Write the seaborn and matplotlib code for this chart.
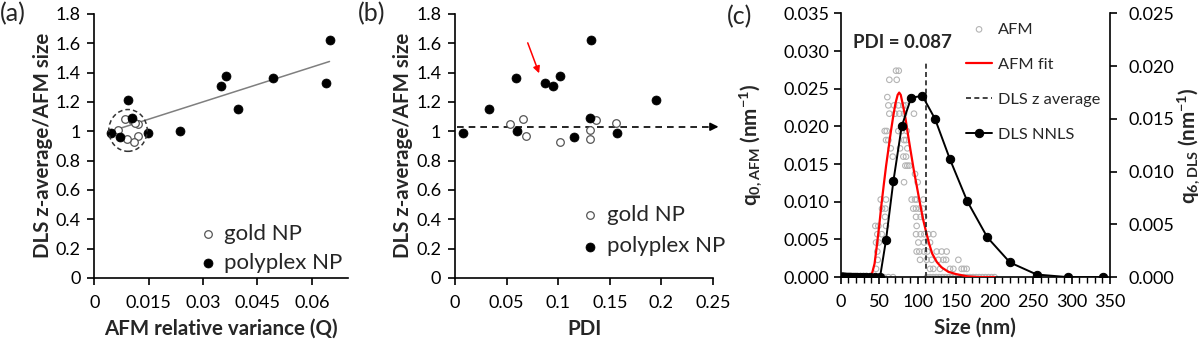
import numpy as np
import pandas as pd
import matplotlib
matplotlib.use('Agg')
import matplotlib.pyplot as plt
from matplotlib.patches import Ellipse
from matplotlib.ticker import MultipleLocator, FormatStrFormatter
import seaborn as sns

# ---- data ----
# (a)/(b) size ratio DLS z-average / AFM size
gold_ratio = [1.048, 1.084, 0.969, 0.924, 1.007, 0.946, 1.077, 1.059]
gold_q = [0.0120, 0.0085, 0.0120, 0.0109, 0.0066, 0.0089, 0.0105, 0.0112]
gold_pdi = [0.0535, 0.0655, 0.0684, 0.1013, 0.131, 0.131, 0.1368, 0.1555]

poly_ratio = [0.990, 1.149, 1.362, 0.998, 1.326, 1.308, 1.378, 0.960, 1.625, 1.091, 0.985, 1.213]
poly_q = [0.0046, 0.0396, 0.0492, 0.0237, 0.0638, 0.0349, 0.0363, 0.0070, 0.0649, 0.0103, 0.0147, 0.0092]
poly_pdi = [0.0074, 0.0332, 0.0587, 0.0603, 0.0871, 0.0945, 0.1013, 0.1155, 0.1313, 0.1306, 0.1568, 0.1945]

mean_ratio = 1.03          # dashed guide in (b)
gold_circle = (0.0093, 1.005)

# (c) AFM histogram points (left axis)
afm_size = [71.9, 75.4, 63.2, 72.8, 60.6,
            61.9, 69.3, 74.9, 81.4, 84.9,
            63.2, 70.6, 76.2, 82.3, 95.2,
            57.2, 59.8, 74.9, 79.3, 85.8,
            58.9, 61.9, 82.3, 84.9,
            65.0, 77.1, 86.6,
            67.6, 81.4, 84.9,
            84.0, 86.6, 89.2,
            96.6, 82.3, 100.0,
            52.0, 58.9, 92.2, 96.6, 98.7, 107.4,
            53.7, 58.0, 94.3, 97.9, 102.2, 106.5,
            57.6, 97.9, 103.9, 108.3,
            45.0, 48.9, 58.9, 98.7,
            47.6, 53.3, 97.9, 103.9, 108.7, 113.9, 120.4,
            45.9, 49.4, 100.9, 108.3, 116.1,
            47.6, 98.7, 102.2, 108.3, 112.6, 124.7, 131.2, 137.7,
            48.1, 103.1, 111.7, 118.2, 126.9, 133.4, 136.9, 152.9,
            45.9, 116.1, 120.4, 129.1, 142.1, 146.4, 157.2, 160.2, 163.7]
afm_q0 = [0.0274, 0.0274, 0.0262, 0.0262, 0.0239,
          0.0228, 0.0228, 0.0228, 0.0228, 0.0228,
          0.0217, 0.0217, 0.0217, 0.0217, 0.0217,
          0.0194, 0.0194, 0.0194, 0.0194, 0.0194,
          0.0182, 0.0182, 0.0182, 0.0182,
          0.0171, 0.0171, 0.0171,
          0.0160, 0.0160, 0.0160,
          0.0148, 0.0148, 0.0148,
          0.0137, 0.0126, 0.0126,
          0.0103, 0.0103, 0.0103, 0.0103, 0.0103, 0.0103,
          0.0091, 0.0091, 0.0091, 0.0091, 0.0091, 0.0091,
          0.0080, 0.0080, 0.0080, 0.0080,
          0.0068, 0.0068, 0.0068, 0.0068,
          0.0057, 0.0057, 0.0057, 0.0057, 0.0057, 0.0057, 0.0057,
          0.0046, 0.0046, 0.0046, 0.0046, 0.0046,
          0.0034, 0.0034, 0.0034, 0.0034, 0.0034, 0.0034, 0.0034, 0.0034,
          0.0023, 0.0023, 0.0023, 0.0023, 0.0023, 0.0023, 0.0023, 0.0023,
          0.0011, 0.0011, 0.0011, 0.0011, 0.0011, 0.0011, 0.0011, 0.0011, 0.0011]
afm_zero_size = [0, 4, 8, 12, 16, 20, 24, 28, 32, 36, 40, 44, 50, 56, 62, 68,
                 112, 116, 120, 124, 128, 132, 136, 140, 144, 148, 152, 156, 160,
                 164, 168, 172, 176, 180, 184, 188, 192, 196, 200]

# AFM fit (left axis)
fit_size = [38, 41, 44, 47, 50, 53, 56, 59, 62, 65, 68, 71, 74, 76, 78, 81, 84, 87,
            90, 95, 99, 103, 107, 111, 115, 119, 125, 131, 140, 150, 165, 180, 200]
fit_q0 = [0.0, 0.0006, 0.0018, 0.0042, 0.0068, 0.0097, 0.0123, 0.0148, 0.0170,
          0.0192, 0.0212, 0.0230, 0.0242, 0.0245, 0.0242, 0.0228, 0.0212, 0.0192,
          0.0173, 0.0142, 0.0120, 0.0098, 0.0077, 0.0060, 0.0044, 0.0031, 0.0020,
          0.0013, 0.0007, 0.0004, 0.0001, 0.0, 0.0]

# DLS NNLS (right axis)
nnls_size = [1.0, 1.2, 1.4, 1.6, 1.8, 2.1, 2.4, 2.8, 3.2, 3.7, 4.3, 5.0, 5.7, 6.6,
             7.7, 8.9, 10.3, 11.9, 13.8, 15.9, 18.4, 21.3, 24.7, 28.5, 33.0, 38.2,
             44.2, 51.1, 58.9, 68.4, 79.3, 91.4, 106.1, 122.6, 142.0, 164.6, 190.6,
             220.0, 254.7, 295.8, 341.3]
nnls_q6 = [0.0] * 28 + [0.00354, 0.00908, 0.0143, 0.0170, 0.0172, 0.0150, 0.01117,
                        0.00718, 0.00377, 0.00139, 0.00025, 0.0, 0.0]
z_average = 110.4
z_line_top = 0.0287
pdi_value = 0.087

# ---- style ----
sns.set_theme(style='ticks')
plt.rcParams['font.family'] = ['Lato', 'DejaVu Sans']
plt.rcParams['mathtext.fontset'] = 'custom'
plt.rcParams['mathtext.rm'] = 'Lato'
plt.rcParams['mathtext.bf'] = 'Lato:bold'
plt.rcParams['mathtext.default'] = 'bf'

TICK = 13
LAB = 14.8
LEG = 16

fig = plt.figure(figsize=(12, 3.46), dpi=100)
ax1 = fig.add_axes([0.0786, 0.197, 0.2114, 0.763])
ax2 = fig.add_axes([0.3792, 0.197, 0.215, 0.763])
ax3 = fig.add_axes([0.7006, 0.199, 0.2244, 0.762])


def style_axis(ax):
    for s in ['left', 'bottom']:
        ax.spines[s].set_linewidth(1.2)
        ax.spines[s].set_color('black')
    ax.tick_params(direction='out', length=5, width=1.2, colors='black',
                   labelsize=TICK)


def scatter_pair(ax, gx, px):
    sns.scatterplot(x=gx, y=gold_ratio, ax=ax, marker='o', s=30,
                    facecolor='white', edgecolor='#555555', linewidth=0.9,
                    label='gold NP', zorder=3)
    sns.scatterplot(x=px, y=poly_ratio, ax=ax, marker='o', s=42,
                    color='black', edgecolor='black', linewidth=0.5,
                    label='polyplex NP', zorder=4)


ratio_ticks = [0, 0.2, 0.4, 0.6, 0.8, 1, 1.2, 1.4, 1.6, 1.8]
ratio_labels = ['0', '0.2', '0.4', '0.6', '0.8', '1', '1.2', '1.4', '1.6', '1.8']

# ---- (a) ----
scatter_pair(ax1, gold_q, poly_q)
sns.regplot(x=poly_q, y=poly_ratio, ax=ax1, scatter=False, ci=None, truncate=True,
            line_kws=dict(color='#7f7f7f', lw=1.1, zorder=2))
ax1.add_patch(Ellipse(gold_circle, 0.0106, 0.285, fill=False, ls=(0, (3, 2)),
                      lw=1.1, color='#333333', zorder=5))
ax1.set_xlim(0, 0.07)
ax1.set_ylim(0, 1.8)
ax1.set_xticks([0, 0.015, 0.03, 0.045, 0.06])
ax1.set_xticklabels(['0', '0.015', '0.03', '0.045', '0.06'])
ax1.set_yticks(ratio_ticks)
ax1.set_yticklabels(ratio_labels)
ax1.set_xlabel('AFM relative variance (Q)', fontsize=LAB, fontweight='bold', labelpad=6)
ax1.set_ylabel('DLS z-average/AFM size', fontsize=LAB, fontweight='bold', labelpad=2)

# ---- (b) ----
scatter_pair(ax2, gold_pdi, poly_pdi)
ax2.plot([0.0016, 0.252], [mean_ratio, mean_ratio], ls=(0, (4, 3)), color='black',
         lw=1.2, clip_on=False, zorder=2)
ax2.annotate('', xy=(0.258, mean_ratio), xytext=(0.248, mean_ratio),
             arrowprops=dict(arrowstyle='-|>', color='black', lw=1.2,
                             mutation_scale=12), annotation_clip=False)
ax2.annotate('', xy=(0.0824, 1.377), xytext=(0.0695, 1.62),
             arrowprops=dict(arrowstyle='-|>', color='red', lw=1.1,
                             mutation_scale=10))
ax2.set_xlim(0, 0.25)
ax2.set_ylim(0, 1.8)
ax2.set_xticks([0, 0.05, 0.1, 0.15, 0.2, 0.25])
ax2.set_xticklabels(['0', '0.05', '0.1', '0.15', '0.2', '0.25'])
ax2.set_yticks(ratio_ticks)
ax2.set_yticklabels(ratio_labels)
ax2.set_xlabel('PDI', fontsize=LAB, fontweight='bold', labelpad=6)
ax2.set_ylabel('DLS z-average/AFM size', fontsize=LAB, fontweight='bold', labelpad=2)

for ax, anchor, spacing in ((ax1, (0.42, 0.205), 0.4), (ax2, (0.497, 0.275), 0.5)):
    style_axis(ax)
    ax.tick_params(axis='x', pad=7)
    ax.tick_params(axis='y', pad=5)
    sns.despine(ax=ax)
    ax.legend(loc='upper left', bbox_to_anchor=anchor, frameon=False,
              fontsize=LEG, handlelength=0.6, handletextpad=0.45,
              labelspacing=spacing, borderpad=0, borderaxespad=0)

# ---- (c) ----
ax3r = ax3.twinx()
sns.scatterplot(x=afm_size + afm_zero_size,
                y=afm_q0 + [0.0] * len(afm_zero_size), ax=ax3,
                marker='o', s=16, facecolor='none', edgecolor='#b4b4b4',
                linewidth=0.8, label='AFM', zorder=2)
sns.lineplot(x=fit_size, y=fit_q0, ax=ax3, color='red', lw=1.6, label='AFM fit',
             zorder=3)
ax3.plot([z_average, z_average], [0, z_line_top], ls=(0, (3, 2)), color='#222222',
         lw=1.2, label='DLS z average', zorder=4)
sns.lineplot(x=nnls_size, y=nnls_q6, ax=ax3r, color='black', lw=1.4, marker='o',
             markersize=6, markeredgecolor='black', label='DLS NNLS', zorder=5)

ax3.set_xlim(0, 350)
ax3.set_ylim(0, 0.035)
ax3r.set_ylim(0, 0.025)
ax3.xaxis.set_major_locator(MultipleLocator(50))
ax3.xaxis.set_minor_locator(MultipleLocator(10))
ax3.yaxis.set_major_locator(MultipleLocator(0.005))
ax3.yaxis.set_major_formatter(FormatStrFormatter('%.3f'))
ax3r.yaxis.set_major_locator(MultipleLocator(0.005))
ax3r.yaxis.set_major_formatter(FormatStrFormatter('%.3f'))

style_axis(ax3)
ax3.tick_params(axis='x', pad=7)
ax3.tick_params(axis='y', pad=3)
ax3.tick_params(axis='x', which='minor', direction='out', length=4, width=1.0,
                colors='black')
ax3r.tick_params(direction='out', length=5, width=1.2, colors='black',
                 labelsize=TICK, pad=8)
ax3.spines['top'].set_visible(False)
ax3r.spines['top'].set_visible(False)
ax3r.spines['right'].set_linewidth(1.2)
ax3r.spines['right'].set_color('black')
ax3r.spines['left'].set_visible(False)
ax3r.spines['bottom'].set_visible(False)
ax3.spines['right'].set_visible(False)

ax3.set_xlabel('Size (nm)', fontsize=LAB, fontweight='bold', labelpad=6)
ax3.set_ylabel(r'$\mathbf{q_{0,AFM}}$ (nm$^{\mathbf{-1}}$)', fontsize=LAB,
               fontweight='bold', labelpad=14)
ax3r.set_ylabel(r'$\mathbf{q_{6,DLS}}$ (nm$^{\mathbf{-1}}$)', fontsize=LAB,
                fontweight='bold', labelpad=1, rotation=90)
ax3.text(16, 0.0311, f'PDI = {pdi_value}', fontsize=13.5, fontweight='bold',
         va='center', ha='left', zorder=6)

h1, l1 = ax3.get_legend_handles_labels()
h2, l2 = ax3r.get_legend_handles_labels()
if ax3.get_legend():
    ax3.get_legend().remove()
ax3r.legend(h1 + h2, l1 + l2, loc='upper left', bbox_to_anchor=(0.465, 0.967),
            frameon=False, fontsize=11.8, handlelength=1.6, handletextpad=0.35,
            labelspacing=1.25, borderpad=0, borderaxespad=0)

# panel letters
fig.text(0.0, 0.995, '(a)', fontsize=18, va='top', ha='left')
fig.text(0.298, 0.995, '(b)', fontsize=18, va='top', ha='left')
fig.text(0.606, 0.985, '(c)', fontsize=18, va='top', ha='left')

fig.savefig('out.png', dpi=100)
